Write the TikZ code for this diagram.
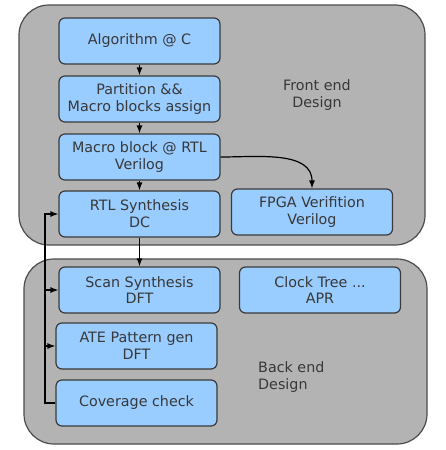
\documentclass[tikz,border=0pt]{standalone}
\usepackage{fontspec}
\setmainfont{DejaVu Sans}
\usepackage{xcolor}
\usepackage{tikz}
\usetikzlibrary{arrows.meta}

\definecolor{boxblue}{HTML}{99CCFF}
\definecolor{groupgray}{HTML}{B3B3B3}
\definecolor{edgegray}{HTML}{3A3A3A}

\tikzset{
    block/.style={draw=edgegray,fill=boxblue,rounded corners=6pt,line width=1.2pt,
        minimum width=161pt,minimum height=46pt,align=center,inner sep=0pt,
        font=\fontsize{14.3pt}{16.8pt}\selectfont,text=black!78},
    group/.style={draw=black!70,fill=groupgray,rounded corners=30pt,line width=1.2pt},
    note/.style={font=\fontsize{14.3pt}{16.8pt}\selectfont,text=black!78,inner sep=0pt},
    flow/.style={-{Latex[length=8pt,width=6pt]},line width=1.2pt}
}

\begin{document}
\begin{tikzpicture}[x=1pt,y=-1pt]
    \useasboundingbox (0,0) rectangle (445,450);
    % stages
    \draw[group] (19,5) rectangle (425,245);
    \draw[group] (24,259) rectangle (427,444);
    \node[note,align=center] (front) at (317,95) {Front end\\Design};
    \node[note,align=left,anchor=west] (back) at (258,377) {Back end\\Design};
    % front end
    \node[block] (algo) at (139.5,41) {Algorithm @ C};
    \node[block] (part) at (139.5,99) {Partition \&\&\\Macro blocks assign};
    \node[block] (macro) at (139.5,157) {Macro block @ RTL\\Verilog};
    \node[block] (rtl) at (139.5,214) {RTL Synthesis\\DC};
    \node[block] (fpga) at (312,212) {FPGA Verifition\\Verilog};
    % back end
    \node[block] (scan) at (139.5,290) {Scan Synthesis\\DFT};
    \node[block] (clock) at (320,290) {Clock Tree ...\\APR};
    \node[block] (ate) at (136.5,346) {ATE Pattern gen\\DFT};
    \node[block] (cov) at (136.5,403) {Coverage check};
    \coordinate (bus) at (45,403);
    % flow
    \draw[flow] (algo) to (part);
    \draw[flow] (part) to (macro);
    \draw[flow] (macro) to (rtl);
    \draw[flow] (macro.east) to [out=0,in=90] (fpga.north);
    \draw[flow] (rtl) to (scan);
    \draw[flow] (cov.west) -- (bus) |- (rtl.west);
    \draw[flow] (bus) |- (scan.west);
    \draw[flow] (bus) |- (ate.west);
\end{tikzpicture}
\end{document}
